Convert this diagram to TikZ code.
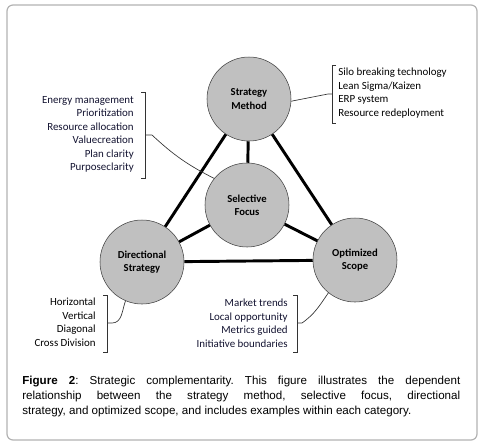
\documentclass[tikz,border=0pt]{standalone}
\usepackage{fontspec}
\setmainfont{Carlito}
\newfontfamily\capfont{Liberation Sans}
\definecolor{navytext}{RGB}{18,18,48}
\definecolor{circlefill}{RGB}{192,192,192}
\frenchspacing
\begin{document}
\begin{tikzpicture}[x=0.75pt,y=-0.75pt,main node/.style={circle,draw=black!75,fill=circlefill,minimum size=63pt,inner sep=0pt,align=center,font=\bfseries\fontsize{8}{10}\selectfont},link/.style={line width=2.2pt},list/.style={inner sep=0pt,font=\fontsize{8.2}{10.1}\selectfont},hint/.style={draw=black!80,line width=0.5pt}]
\tikzstyle{brace} = [draw=black!80,line width=0.6pt]
%\tikzstyle{every node}=[font \small]

\useasboundingbox (0,0) rectangle (482,444);
\draw[rounded corners=4.5pt,draw=black!30,line width=0.9pt] (7,5) rectangle (477,440);

% circles
\node[main node] (method) at (249,99) {Strategy\\Method};
\node[main node] (focus) at (247,205) {Selective\\Focus};
\node[main node] (direct) at (142,262) {Directional\\Strategy};
\node[main node] (scope) at (355,260) {Optimized\\Scope};

\draw[link] (method) -- (focus);
\draw[link] (method) -- (direct);
\draw[link] (method) -- (scope);
\draw[link] (focus) -- (direct);
\draw[link] (focus) -- (scope);
\draw[link] (direct) -- (scope);

% examples
\node[list,align=right,anchor=north east,text=navytext] (focuslist) at (134,96) {Energy management\\Prioritization\\Resource allocation\\Valuecreation\\Plan clarity\\Purposeclarity};
\draw[brace] (141,92) -- (145,92) -- (145,178) -- (141,178);
\coordinate (focustick) at (152,135);
\draw[hint] (145,135) -- (focustick) to[bend right=8] (focus.141);

\node[list,align=left,anchor=north west] (methodlist) at (338,68) {Silo breaking technology\\Lean Sigma/Kaizen\\ERP system\\Resource redeployment};
\draw[brace] (336,65) -- (332,65) -- (332,123) -- (336,123);
\coordinate (methodtick) at (328,94);
\draw[hint] (332,94) -- (methodtick) -- (method.-3);

\node[list,align=right,anchor=north east] (directlist) at (96,298) {Horizontal\\Vertical\\Diagonal\\Cross Division};
\draw[brace] (103,295) -- (107,295) -- (107,352) -- (103,352);
\coordinate (directtick) at (112,323);
\draw[hint] (107,323) -- (directtick) to[out=0,in=-110] (direct.-113);

\node[list,align=right,anchor=north east,text=navytext] (scopelist) at (288,299) {Market trends\\Local opportunity\\Metrics guided\\Initiative boundaries};
\draw[brace] (293,295) -- (297,295) -- (297,352) -- (293,352);
\coordinate (scopetick) at (302,323);
\draw[hint] (297,323) -- (scopetick) to[out=35,in=-125] (scope.-129);

% caption
\node[inner sep=0pt,anchor=north west,text width=328.5pt,align=justify,font=\capfont\fontsize{8.7}{11.25}\selectfont] (caption) at (22,376) {\parfillskip=0pt {\bfseries Figure 2}: Strategic complementarity. This figure illustrates the dependent\linebreak relationship between the strategy method, selective focus, directional\linebreak strategy, and optimized scope, and includes examples within each category.};
\end{tikzpicture}
\end{document}
